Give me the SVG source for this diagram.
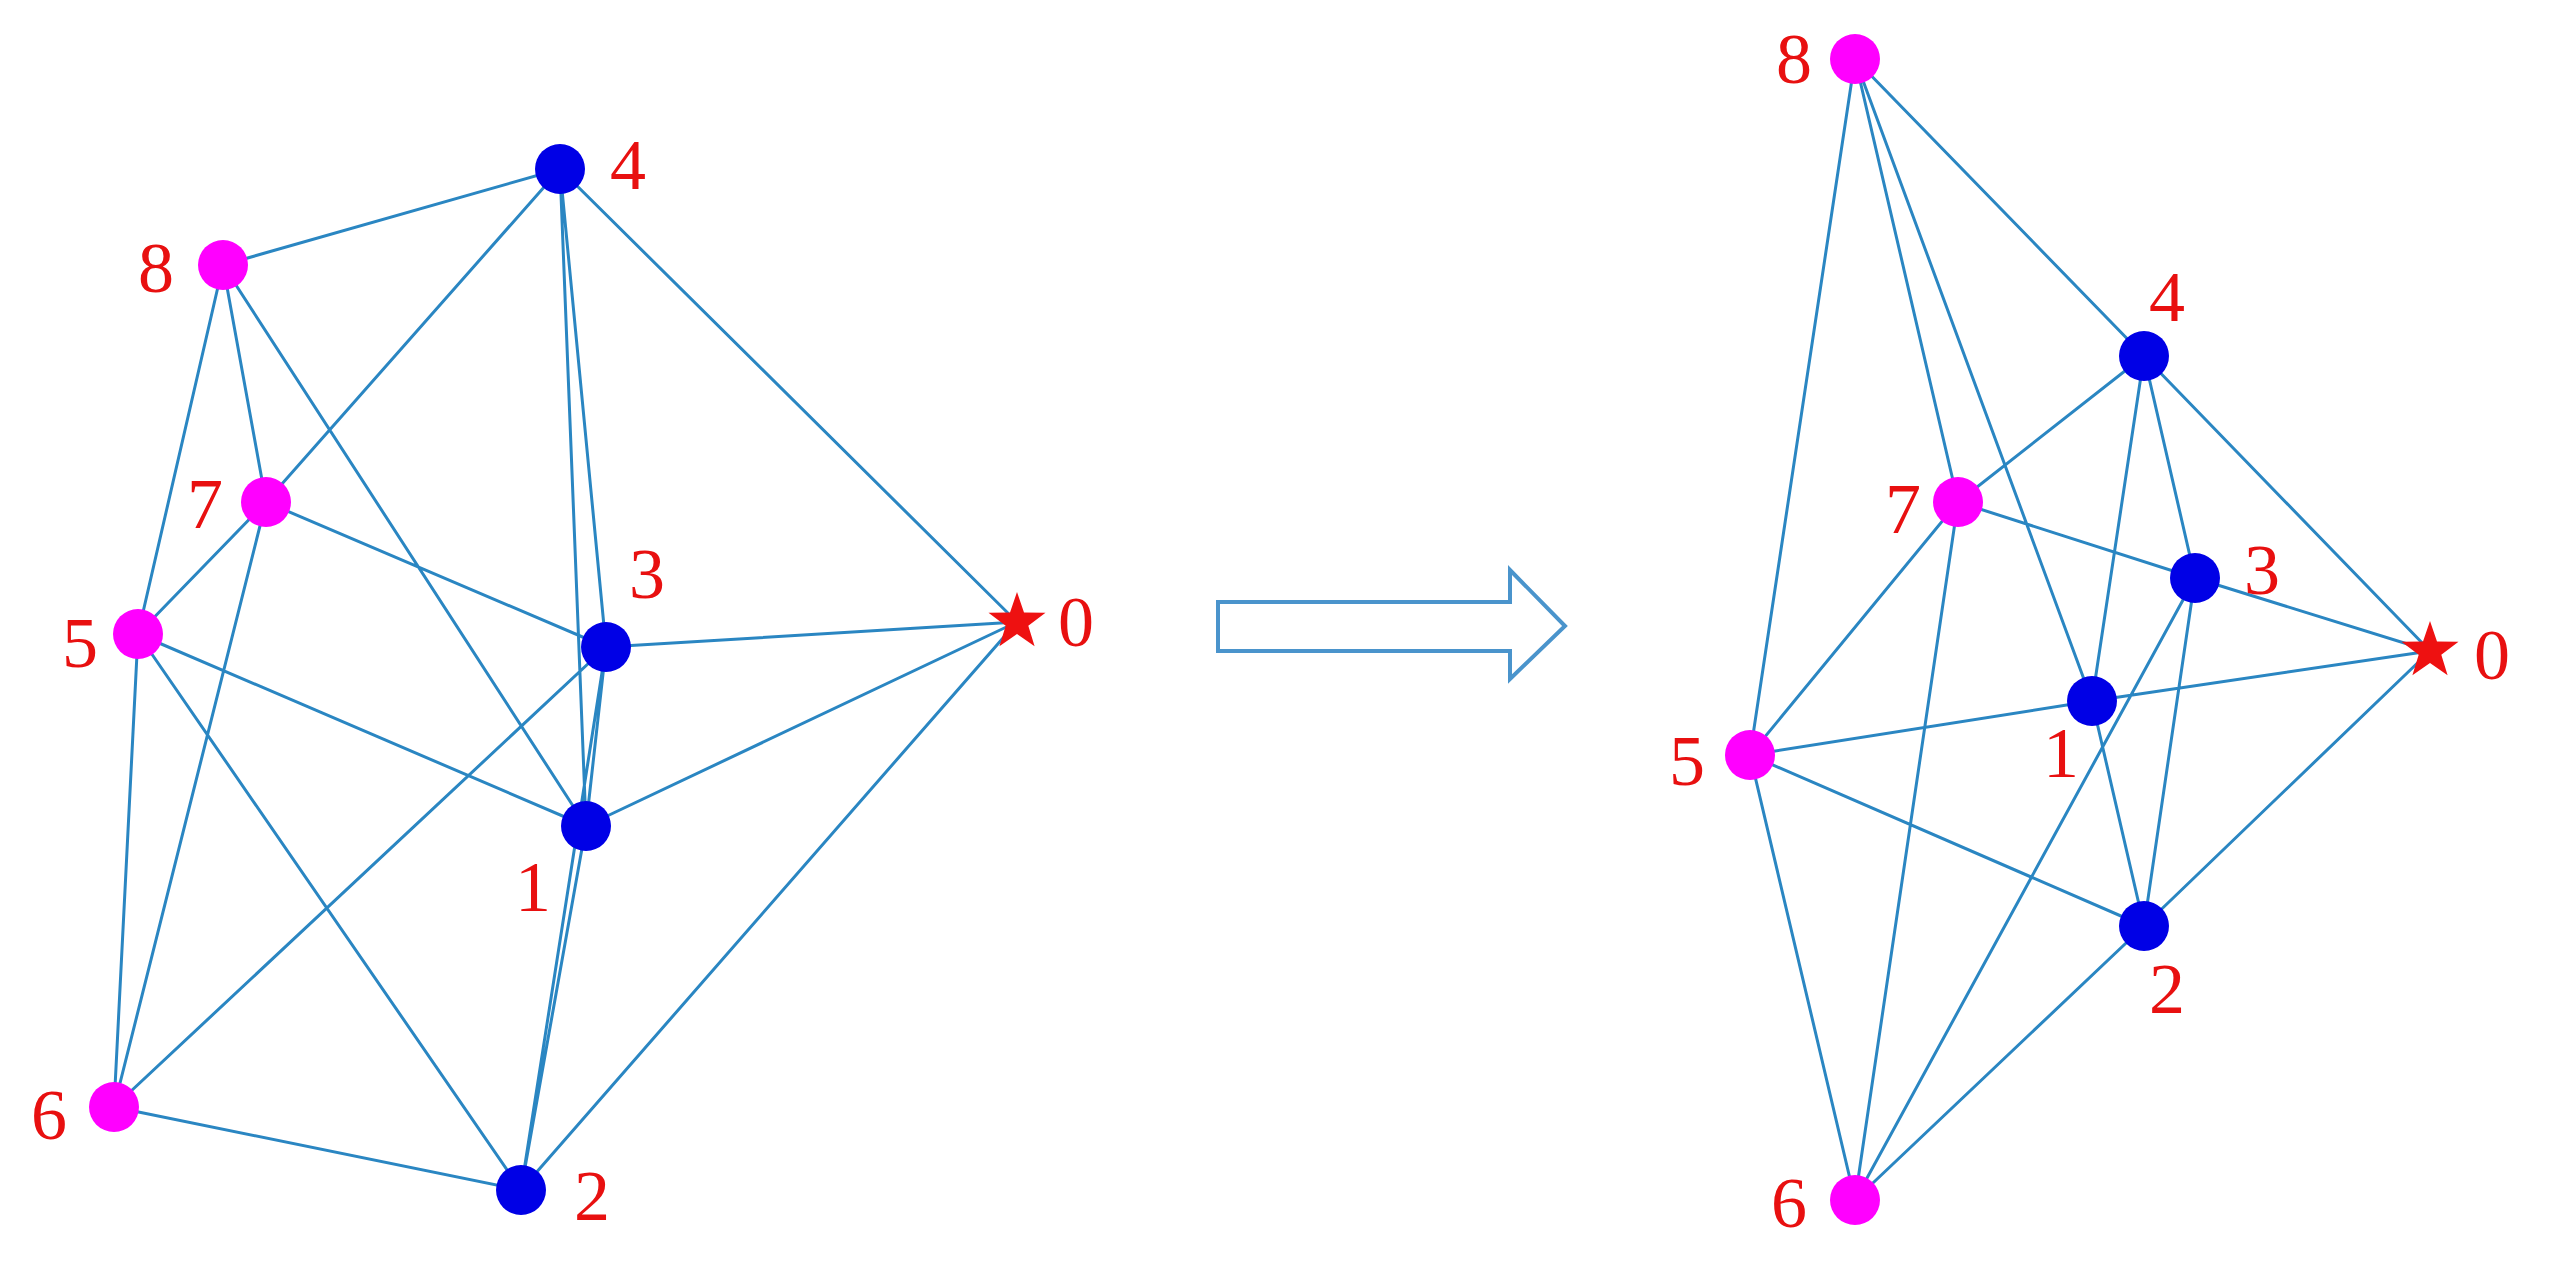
<svg xmlns="http://www.w3.org/2000/svg" width="2553" height="1284" viewBox="0 0 2553 1284">
<style>
.e{stroke:#2a86c2;stroke-width:3;fill:none}
.b{fill:#0000e6}.m{fill:#ff00ff}.s{fill:#ee1111}
text{font-family:"Liberation Serif",serif;font-size:72px;fill:#e81010;text-anchor:middle}
</style>
<defs><polygon id="star" points="0,-30 7,-9.5 28.5,-9.3 11.3,3.7 17.6,24.3 0,12 -17.6,24.3 -11.3,3.7 -28.5,-9.3 -7,-9.5"/></defs>
<rect width="2553" height="1284" fill="#fff"/>
<g id="connectors">
<path class="e" d="M223,265L560,169M560,169L266,502M560,169L1017,622M560,169L606,647M560,169L586,826M223,265L266,502M223,265L138,634M223,265L586,826M266,502L606,647M266,502L138,634M266,502L114,1107M138,634L586,826M138,634L114,1107M138,634L521,1190M606,647L1017,622M606,647L114,1107M606,647L586,826M586,826L1017,622M586,826L521,1190M521,1190L1017,622M114,1107L521,1190M606,647L521,1190"/>
<path class="e" d="M1855,59L1750,755M1855,59L1958,502M1855,59L2092,701M1855,59L2144,356M2144,356L1958,502M2144,356L2430,651M2144,356L2092,701M2144,356L2195,578M1958,502L2195,578M1958,502L1750,755M1958,502L1855,1200M2195,578L2430,651M2195,578L1855,1200M2195,578L2144,926M2092,701L2430,651M1750,755L2092,701M2092,701L2144,926M1750,755L2144,926M1750,755L1855,1200M2144,926L2430,651M1855,1200L2144,926"/>
<polygon points="1218,602 1510,602 1510,570 1565,626 1510,679 1510,651 1218,651" fill="none" stroke="#4a94cc" stroke-width="4"/>
</g>
<g id="L0"><use href="#star" x="1017" y="622" class="s"/><text x="1076" y="646">0</text></g>
<g id="L1"><circle cx="586" cy="826" r="25" class="b"/><text x="533" y="911">1</text></g>
<g id="L2"><circle cx="521" cy="1190" r="25" class="b"/><text x="592" y="1220">2</text></g>
<g id="L3"><circle cx="606" cy="647" r="25" class="b"/><text x="647" y="598">3</text></g>
<g id="L4"><circle cx="560" cy="169" r="25" class="b"/><text x="628" y="189">4</text></g>
<g id="L5"><circle cx="138" cy="634" r="25" class="m"/><text x="80" y="667">5</text></g>
<g id="L6"><circle cx="114" cy="1107" r="25" class="m"/><text x="49" y="1139">6</text></g>
<g id="L7"><circle cx="266" cy="502" r="25" class="m"/><text x="205" y="528">7</text></g>
<g id="L8"><circle cx="223" cy="265" r="25" class="m"/><text x="156" y="292">8</text></g>
<g id="R0"><use href="#star" x="2430" y="651" class="s"/><text x="2492" y="679">0</text></g>
<g id="R1"><circle cx="2092" cy="701" r="25" class="b"/><text x="2061" y="777">1</text></g>
<g id="R2"><circle cx="2144" cy="926" r="25" class="b"/><text x="2167" y="1013">2</text></g>
<g id="R3"><circle cx="2195" cy="578" r="25" class="b"/><text x="2262" y="594">3</text></g>
<g id="R4"><circle cx="2144" cy="356" r="25" class="b"/><text x="2167" y="321">4</text></g>
<g id="R5"><circle cx="1750" cy="755" r="25" class="m"/><text x="1687" y="785">5</text></g>
<g id="R6"><circle cx="1855" cy="1200" r="25" class="m"/><text x="1789" y="1227">6</text></g>
<g id="R7"><circle cx="1958" cy="502" r="25" class="m"/><text x="1903" y="533">7</text></g>
<g id="R8"><circle cx="1855" cy="59" r="25" class="m"/><text x="1794" y="83">8</text></g>
</svg>
